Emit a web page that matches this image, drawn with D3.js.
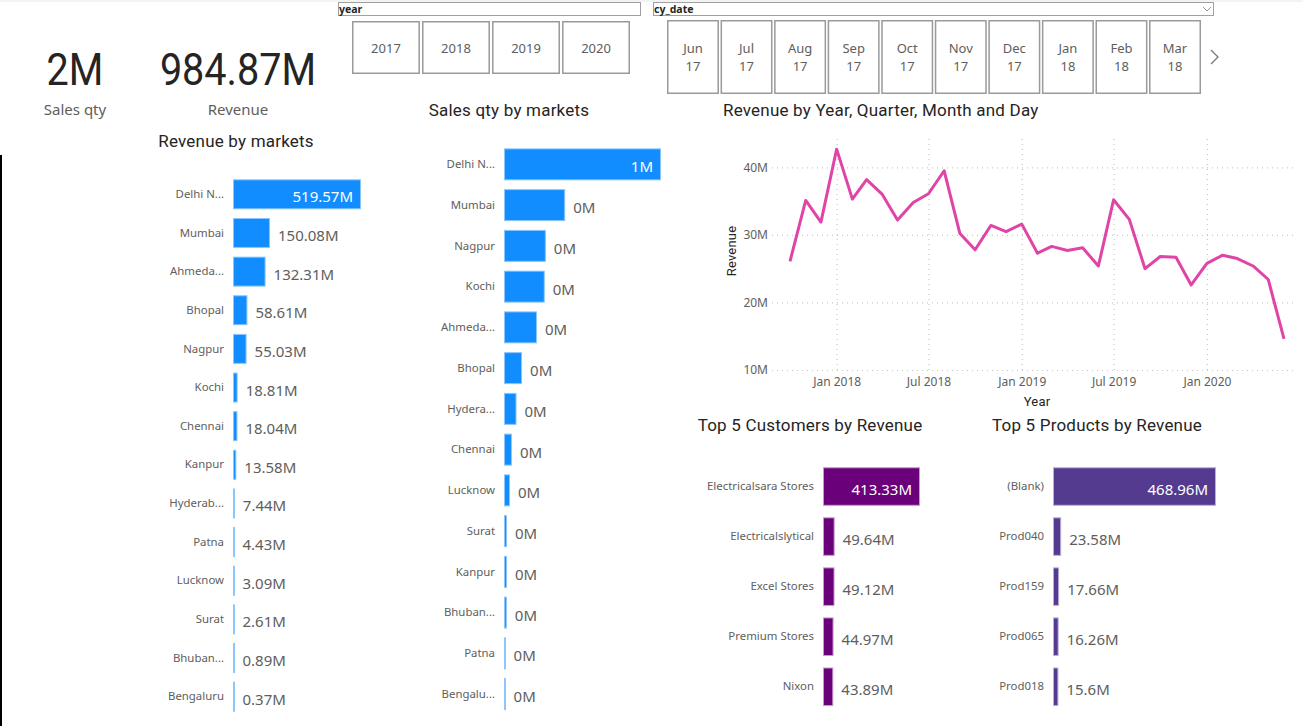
<!DOCTYPE html>
<html>
<head>
<meta charset="utf-8">
<title>Sales dashboard</title>
<script src="https://d3js.org/d3.v7.min.js"></script>
<style>
  body { margin: 0; background: #fff; }
  svg { display: block; }
  .ttl { font-family: Roboto, "DejaVu Sans", sans-serif; fill: #252423; font-size: 17px; letter-spacing: 0.2px; }
  .lbl { font-family: "Noto Sans", "Open Sans", sans-serif; fill: #605E5C; }
</style>
</head>
<body>
<div id="chart"></div>
<script>
// ---- data ----
const kpiValues = ["2M", "984.87M"];
const kpiLabels = ["Sales qty", "Revenue"];

const yearTiles = ["2017", "2018", "2019", "2020"];
const dateTiles = ["Jun 17", "Jul 17", "Aug 17", "Sep 17", "Oct 17", "Nov 17", "Dec 17", "Jan 18", "Feb 18", "Mar 18"];

const revMarkets = ["Delhi N...", "Mumbai", "Ahmeda...", "Bhopal", "Nagpur", "Kochi", "Chennai", "Kanpur", "Hyderab...", "Patna", "Lucknow", "Surat", "Bhuban...", "Bengaluru"];
const revValues = [519.57, 150.08, 132.31, 58.61, 55.03, 18.81, 18.04, 13.58, 7.44, 4.43, 3.09, 2.61, 0.89, 0.37];

const qtyMarkets = ["Delhi N...", "Mumbai", "Nagpur", "Kochi", "Ahmeda...", "Bhopal", "Hydera...", "Chennai", "Lucknow", "Surat", "Kanpur", "Bhuban...", "Patna", "Bengalu..."];
const qtyValues = [990000, 386000, 264000, 257000, 208000, 114000, 79000, 50000, 38000, 19000, 19000, 18000, 10000, 10000];

const customers = ["Electricalsara Stores", "Electricalslytical", "Excel Stores", "Premium Stores", "Nixon"];
const customerRev = [413.33, 49.64, 49.12, 44.97, 43.89];

const products = ["(Blank)", "Prod040", "Prod159", "Prod065", "Prod018"];
const productRev = [468.96, 23.58, 17.66, 16.26, 15.6];

// monthly revenue Oct 2017 .. Jun 2020, in millions
const lineMonths = d3.timeMonth.range(new Date(2017, 9, 1), new Date(2020, 6, 1));
const lineRevenue = [26.1, 35.1, 31.9, 42.7, 35.3, 38.2, 36.0, 32.2, 34.8, 36.1, 39.5, 30.2, 27.8, 31.4, 30.5, 31.6,
                     27.3, 28.3, 27.7, 28.1, 25.4, 35.2, 32.3, 25.0, 26.8, 26.7, 22.6, 25.8, 27.0, 26.5, 25.4, 23.4, 14.6];

// ---- page ----
const W = 1303, H = 726;
const svg = d3.select('#chart').append('svg').attr('width', W).attr('height', H);

svg.append('rect').attr('x', 0).attr('y', 0).attr('width', W).attr('height', 2).attr('fill', '#f3f3f3');
svg.append('line').attr('x1', 1).attr('x2', 1).attr('y1', 155).attr('y2', H).attr('stroke', '#000').attr('stroke-width', 2);

// KPI cards
const kpiX = d3.scalePoint().domain(kpiLabels).range([75, 238]);
kpiLabels.forEach((k, i) => {
  svg.append('text').attr('class', 'ttl')
    .attr('transform', `translate(${kpiX(k)},85) scale(0.9,1)`)
    .attr('text-anchor', 'middle').style('font-size', '44px').style('letter-spacing', '0px').text(kpiValues[i]);
  svg.append('text').attr('class', 'lbl').attr('x', kpiX(k)).attr('y', 115)
    .attr('text-anchor', 'middle').style('font-size', '15px').text(k);
});

// slicers
function slicer(title, hx0, hx1, tiles, bx0, bx1, by0, by1, gap, chevron) {
  const g = svg.append('g');
  g.append('rect').attr('x', hx0 + 0.5).attr('y', 2.5).attr('width', hx1 - hx0).attr('height', 13)
    .attr('fill', '#fff').attr('stroke', '#a0a0a0');
  g.append('text').attr('x', hx0 + 1).attr('y', 13).style('font-family', '"Noto Sans", sans-serif')
    .style('font-size', '10.5px').style('font-weight', 'bold').attr('fill', '#252423').text(title);
  if (chevron) {
    g.append('path').attr('d', `M${hx1 - 10},7 l4,4 l4,-4`).attr('fill', 'none').attr('stroke', '#999');
  }
  const bx = d3.scaleBand().domain(tiles).range([bx0, bx1]).paddingInner(gap);
  const t = g.selectAll('g.tile').data(tiles).join('g').attr('class', 'tile');
  t.append('rect').attr('x', d => bx(d) + 0.75).attr('y', by0 + 0.75)
    .attr('width', bx.bandwidth() - 1.5).attr('height', by1 - by0 - 1.5)
    .attr('fill', '#fff').attr('stroke', '#9a9a9a').attr('stroke-width', 1.5);
  t.each(function(d) {
    const parts = d.split(' ');
    const cy = (by0 + by1) / 2;
    parts.forEach((p, j) => {
      d3.select(this).append('text').attr('class', 'lbl')
        .attr('x', bx(d) + bx.bandwidth() / 2)
        .attr('y', cy + 5 + (j - (parts.length - 1) / 2) * 18)
        .attr('text-anchor', 'middle').style('font-size', '13px').attr('fill', '#555').text(p);
    });
  });
  return g;
}
slicer('year', 338, 640, yearTiles, 352, 630, 21, 74, 0.03, false);
const ds = slicer('cy_date', 653, 1213, dateTiles, 667, 1201, 20, 94, 0.03, true);
ds.append('path').attr('d', 'M1211,50 l7,7 l-7,7').attr('fill', 'none').attr('stroke', '#777').attr('stroke-width', 1.3);

// horizontal bar chart helper
function bars(opt) {
  const g = svg.append('g');
  g.append('text').attr('class', 'ttl').attr('x', opt.titleX).attr('y', opt.titleY)
    .attr('text-anchor', opt.titleAnchor || 'middle').text(opt.title);
  const y = d3.scaleBand().domain(opt.names).range(opt.yRange).paddingInner(opt.pad).paddingOuter(opt.pad / 2);
  const x = d3.scaleLinear().domain([0, d3.max(opt.values)]).range([0, opt.maxW]);
  const rows = opt.names.map((n, i) => ({ name: n, value: opt.values[i] }));

  const ax = g.append('g').attr('transform', `translate(${opt.barX},0)`)
    .call(d3.axisLeft(y).tickSize(0).tickPadding(9));
  ax.select('.domain').remove();
  ax.selectAll('text').attr('class', 'lbl').style('font-size', '11.4px').attr('fill', '#605E5C');

  g.selectAll('rect.bar').data(rows).join('rect').attr('class', 'bar')
    .attr('x', opt.barX + 0.5)
    .attr('y', d => y(d.name) + 0.5)
    .attr('width', d => Math.max(1, x(d.value) - 1))
    .attr('height', y.bandwidth() - 1)
    .attr('fill', opt.color)
    .attr('stroke', opt.stroke).attr('stroke-width', 1);

  g.selectAll('text.val').data(rows).join('text').attr('class', 'val lbl')
    .attr('x', (d, i) => i === 0 ? opt.barX + x(d.value) - 8 : opt.barX + Math.max(1.5, x(d.value)) + 8)
    .attr('y', d => y(d.name) + y.bandwidth() / 2 + 8)
    .attr('text-anchor', (d, i) => i === 0 ? 'end' : 'start')
    .style('font-size', '15px')
    .style('fill', (d, i) => i === 0 ? '#fff' : '#605E5C')
    .text(d => opt.fmt(d.value));
}

const fmtM = v => parseFloat(v.toFixed(2)) + 'M';
const fmtQty = v => d3.format('.0f')(v / 1e6) + 'M';

bars({ title: 'Revenue by markets', titleX: 236, titleY: 147, names: revMarkets, values: revValues,
  barX: 233, maxW: 128, yRange: [175, 716], pad: 0.224, color: '#118DFF', stroke: '#8cc6ff', fmt: fmtM });

bars({ title: 'Sales qty by markets', titleX: 509, titleY: 116, names: qtyMarkets, values: qtyValues,
  barX: 504, maxW: 157, yRange: [144, 714.5], pad: 0.215, color: '#118DFF', stroke: '#8cc6ff', fmt: fmtQty });

bars({ title: 'Top 5 Customers by Revenue', titleX: 810, titleY: 431, names: customers, values: customerRev,
  barX: 823, maxW: 97, yRange: [461.5, 711.8], pad: 0.23, color: '#6B007B', stroke: '#c49acb', fmt: fmtM });

bars({ title: 'Top 5 Products by Revenue', titleX: 1097, titleY: 431, names: products, values: productRev,
  barX: 1053, maxW: 163, yRange: [461.5, 711.8], pad: 0.23, color: '#553B90', stroke: '#b9aed6', fmt: fmtM });

// line chart
const lg = svg.append('g');
lg.append('text').attr('class', 'ttl').attr('x', 723).attr('y', 116).text('Revenue by Year, Quarter, Month and Day');

const plotL = 772, plotR = 1295, plotT = 137, plotB = 370;
const xT = d3.scaleTime().domain([lineMonths[0], lineMonths[lineMonths.length - 1]]).range([790, 1284]);
const yL = d3.scaleLinear().domain([10, 44.5]).range([plotB, plotT]);

const yAx = lg.append('g').attr('transform', `translate(${plotL},0)`)
  .call(d3.axisLeft(yL).tickValues([10, 20, 30, 40]).tickFormat(d => d + 'M').tickSize(-(plotR - plotL)).tickPadding(4));
yAx.select('.domain').remove();
yAx.selectAll('line').attr('stroke', '#c8c8c8').attr('stroke-dasharray', '1,4').attr('stroke-width', 1.2);
yAx.selectAll('text').attr('class', 'lbl').style('font-size', '12px').attr('fill', '#605E5C');

const xTicks = [new Date(2018, 0, 1), new Date(2018, 6, 1), new Date(2019, 0, 1), new Date(2019, 6, 1), new Date(2020, 0, 1)];
const xAx = lg.append('g').attr('transform', `translate(0,${plotB})`)
  .call(d3.axisBottom(xT).tickValues(xTicks).tickFormat(d3.timeFormat('%b %Y')).tickSize(-(plotB - plotT)).tickPadding(7));
xAx.select('.domain').remove();
xAx.selectAll('line').attr('stroke', '#c8c8c8').attr('stroke-dasharray', '1,4').attr('stroke-width', 1.2);
xAx.selectAll('text').attr('class', 'lbl').style('font-size', '12px').attr('fill', '#605E5C');

lg.append('text').attr('class', 'ttl').attr('transform', 'translate(736,251) rotate(-90)')
  .attr('text-anchor', 'middle').style('font-size', '13px').text('Revenue');
lg.append('text').attr('class', 'ttl').attr('x', 1037).attr('y', 406)
  .attr('text-anchor', 'middle').style('font-size', '13px').text('Year');

const line = d3.line().x((d, i) => xT(lineMonths[i])).y(d => yL(d));
lg.append('path').datum(lineRevenue).attr('d', line)
  .attr('fill', 'none').attr('stroke', '#E044A7').attr('stroke-width', 3).attr('stroke-linejoin', 'round');
</script>
</body>
</html>
